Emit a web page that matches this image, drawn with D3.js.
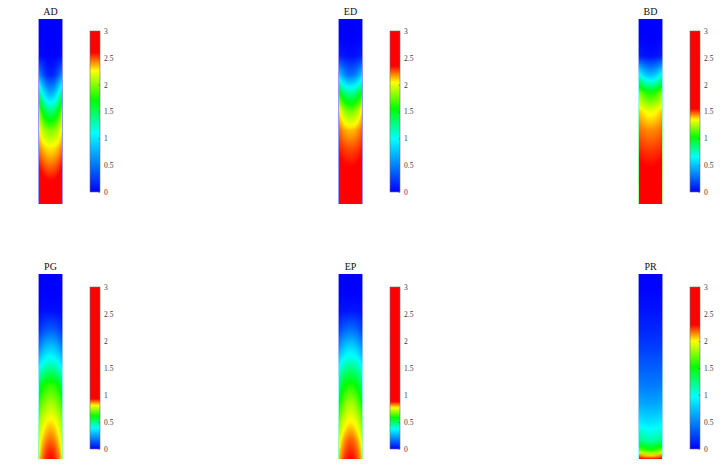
<!DOCTYPE html>
<html>
<head>
<meta charset="utf-8">
<script src="https://cdn.jsdelivr.net/npm/d3@7"></script>
<style>
  body { margin: 0; background: #fff; }
  text { font-family: "Liberation Serif", "Times New Roman", serif; }
</style>
</head>
<body>
<svg id="chart" width="720" height="470"></svg>
<script>
// Panel names, left to right, top to bottom
const panels = ["AD", "ED", "BD", "PG", "EP", "PR"];

// Depth positions (0 = top of column, 1 = bottom) where the profiles are read
const depth = [0, 0.1, 0.2, 0.3, 0.4, 0.5, 0.6, 0.7, 0.8, 0.9, 0.95, 1];

// Value where each panel's colour map reaches red
const cmax = [2.6, 2.35, 1.55, 0.93, 0.88, 2.3];

// Values along the centre line of each column
const centerAD = [0, 0, 0, 0.13, 0.73, 1.43, 1.98, 2.29, 2.47, 2.65, 2.75, 2.86];
const centerED = [0, 0, 0.05, 0.42, 1.22, 1.78, 2.12, 2.26, 2.35, 2.47, 2.54, 2.59];
const centerBD = [0, 0, 0.03, 0.47, 1.05, 1.33, 1.44, 1.5, 1.55, 1.61, 1.64, 1.67];
const centerPG = [0, 0, 0.02, 0.14, 0.31, 0.47, 0.65, 0.74, 0.82, 0.88, 0.91, 0.93];
const centerEP = [0, 0, 0.03, 0.16, 0.32, 0.46, 0.6, 0.7, 0.77, 0.84, 0.86, 0.88];
const centerPR = [0, 0.02, 0.07, 0.14, 0.23, 0.35, 0.46, 0.62, 0.85, 1.15, 1.56, 2.3];

// Values next to the side walls
const edgeAD = [0, 0, 0.05, 0.65, 1.51, 2.03, 2.29, 2.44, 2.6, 2.73, 2.82, 2.91];
const edgeED = [0, 0, 0.12, 0.82, 1.6, 2.1, 2.24, 2.32, 2.4, 2.49, 2.54, 2.59];
const edgeBD = [0, 0, 0.08, 0.7, 1.21, 1.4, 1.47, 1.52, 1.57, 1.63, 1.66, 1.67];
const edgePG = [0, 0, 0.01, 0.07, 0.2, 0.37, 0.56, 0.65, 0.73, 0.78, 0.8, 0.82];
const edgeEP = [0, 0, 0.02, 0.09, 0.22, 0.37, 0.49, 0.58, 0.67, 0.74, 0.77, 0.79];
const edgePR = [0, 0.02, 0.07, 0.14, 0.23, 0.35, 0.48, 0.64, 0.9, 1.27, 1.73, 2.42];

// Values on the wall line itself
const wallAD = [0, 0, 0, 0, 0, 0, 0, 0, 0, 0, 0, 0];
const wallED = [0, 0, 0, 0, 0, 0, 0, 0, 0, 0, 0, 0];
const wallBD = [0, 0, 0.03, 0.47, 0.7, 0.85, 0.93, 1.0, 1.02, 1.05, 1.08, 1.08];
const wallPG = [0, 0, 0, 0.05, 0.14, 0.28, 0.37, 0.46, 0.51, 0.56, 0.58, 0.6];
const wallEP = [0, 0, 0, 0.04, 0.13, 0.26, 0.35, 0.44, 0.48, 0.53, 0.55, 0.57];
const wallPR = [0, 0, 0.05, 0.1, 0.2, 0.3, 0.4, 0.5, 0.6, 0.8, 0.9, 1.0];

const centers = [centerAD, centerED, centerBD, centerPG, centerEP, centerPR];
const edges = [edgeAD, edgeED, edgeBD, edgePG, edgeEP, edgePR];
const walls = [wallAD, wallED, wallBD, wallPG, wallEP, wallPR];

// Colour bar ticks
const cbTicks = [0, 0.5, 1, 1.5, 2, 2.5, 3];
const cbDomain = [0, 3];

// Layout
const colLeft = [38, 338, 638];
const rowTop = [19, 274];
const stripW = 25;
const stripH = 185;
const cbTop = [31, 287];
const cbBottom = [192, 449];
const cbOffset = 52;
const cbW = 10;

const svg = d3.select("#chart");
const defs = svg.append("defs");

// Blue -> cyan -> green -> yellow -> red map, on a 0..1 fraction of cmax
const rainbow = d3.scaleLinear()
    .domain([0, 0.42, 0.66, 0.87, 1])
    .range(["#0000ff", "#00ffff", "#00ff00", "#ffff00", "#ff0000"])
    .clamp(true);

const samples = d3.range(0, 1.0001, 1 / 60);
let gid = 0;

panels.forEach((name, p) => {
    const left = colLeft[p % 3];
    const top = rowTop[Math.floor(p / 3)];
    const r = Math.floor(p / 3);

    const colour = v => rainbow(v / cmax[p]);
    const centerAt = d3.scaleLinear().domain(depth).range(centers[p]);
    const edgeAt = d3.scaleLinear().domain(depth).range(edges[p]);
    const wallAt = d3.scaleLinear().domain(depth).range(walls[p]);

    const g = svg.append("g");

    // Title
    g.append("text")
        .attr("x", left + stripW / 2)
        .attr("y", top - 4)
        .attr("text-anchor", "middle")
        .attr("font-size", "10px")
        .attr("fill", "#111")
        .text(name);

    // Inner cells: one 1px column per pixel across the width
    const inner = d3.range(1, stripW - 1);
    const xCell = d3.scaleLinear().domain([1, stripW - 1]).range([-1, 1]);

    inner.forEach(i => {
        const u = xCell(i + 0.5);
        const w = u * u;
        const id = "g" + (gid++);
        const grad = defs.append("linearGradient")
            .attr("id", id)
            .attr("x1", 0).attr("y1", 0).attr("x2", 0).attr("y2", 1);
        grad.selectAll("stop")
            .data(samples)
            .join("stop")
            .attr("offset", t => t)
            .attr("stop-color", t => colour(centerAt(t) + (edgeAt(t) - centerAt(t)) * w));
        g.append("rect")
            .attr("x", left + i)
            .attr("y", top)
            .attr("width", 1.05)
            .attr("height", stripH)
            .attr("fill", `url(#${id})`);
    });

    // Wall lines, half-covered pixels
    const wid = "g" + (gid++);
    const wgrad = defs.append("linearGradient")
        .attr("id", wid)
        .attr("x1", 0).attr("y1", 0).attr("x2", 0).attr("y2", 1);
    wgrad.selectAll("stop")
        .data(samples)
        .join("stop")
        .attr("offset", t => t)
        .attr("stop-color", t => colour(wallAt(t)));
    [left, left + stripW - 1].forEach(x => {
        g.append("rect")
            .attr("x", x)
            .attr("y", top)
            .attr("width", 1)
            .attr("height", stripH)
            .attr("fill", `url(#${wid})`)
            .attr("opacity", 0.4);
    });

    // Colour bar
    const cbx = left + cbOffset;
    const y = d3.scaleLinear().domain(cbDomain).range([cbBottom[r], cbTop[r]]);
    const cid = "g" + (gid++);
    const cgrad = defs.append("linearGradient")
        .attr("id", cid)
        .attr("x1", 0).attr("y1", 1).attr("x2", 0).attr("y2", 0);
    cgrad.selectAll("stop")
        .data(d3.range(0, 3.0001, 0.02))
        .join("stop")
        .attr("offset", v => v / 3)
        .attr("stop-color", v => colour(v));
    g.append("rect")
        .attr("x", cbx)
        .attr("y", cbTop[r])
        .attr("width", cbW)
        .attr("height", cbBottom[r] - cbTop[r])
        .attr("fill", `url(#${cid})`)
        .attr("stroke", "#6f6f6f")
        .attr("stroke-width", 0.6);

    const axis = g.append("g")
        .attr("transform", `translate(${cbx + cbW},0)`)
        .call(d3.axisRight(y)
            .tickValues(cbTicks)
            .tickFormat(d3.format("~g"))
            .tickSizeInner(-1.5)
            .tickSizeOuter(0)
            .tickPadding(4));
    axis.select(".domain").remove();
    axis.selectAll(".tick line").attr("stroke", "#555").attr("stroke-width", 0.5);
    axis.selectAll(".tick text")
        .attr("font-family", "Liberation Serif, Times New Roman, serif")
        .attr("font-size", "7.5px")
        .attr("fill", "#3a3a3a");
});
</script>
</body>
</html>
